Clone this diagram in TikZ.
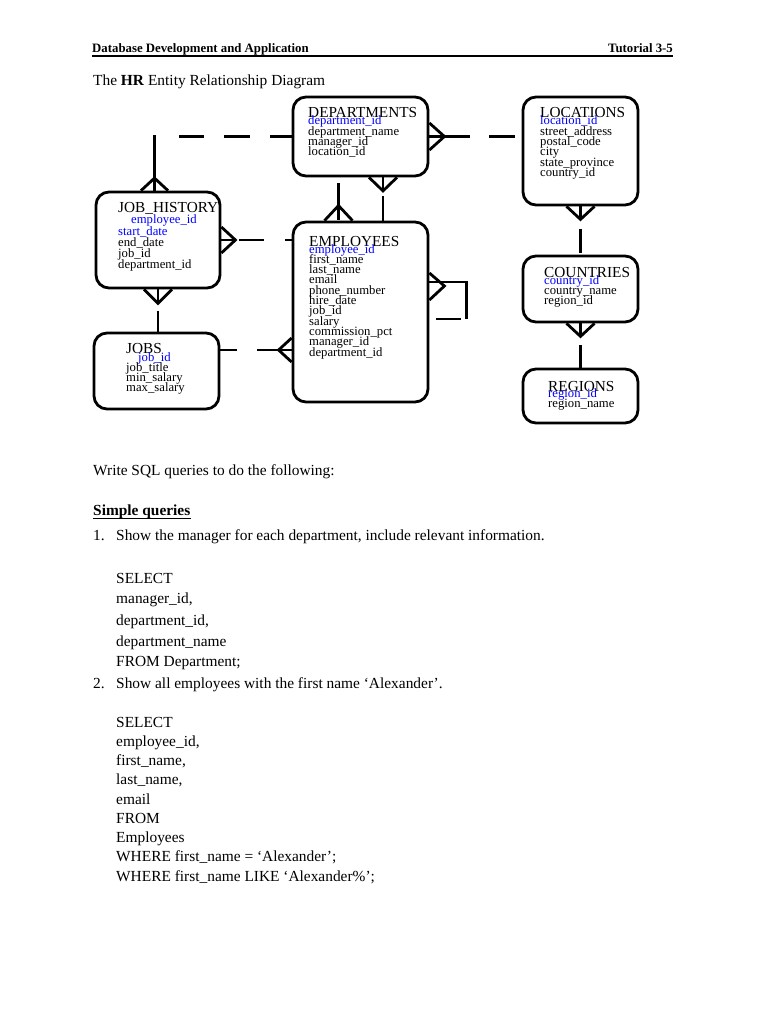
\documentclass[tikz,border=0pt]{standalone}
\usepackage{fontspec}
\setmainfont{Liberation Serif}
\usetikzlibrary{calc}
\begin{document}
\begin{tikzpicture}[x=1pt,y=-1pt,
  box/.style={draw,line width=2.8pt,rounded corners=13pt,inner sep=0pt},
  conn/.style={line width=2.8pt},
  hdr/.style={font=\fontsize{12.8}{14}\selectfont\bfseries,inner sep=0pt},
  body/.style={font=\fontsize{15.4}{18}\selectfont,anchor=base west,inner sep=0pt},
  ttl/.style={font=\fontsize{15.3}{16}\selectfont,anchor=base west,inner sep=0pt},
  att/.style={font=\fontsize{12.7}{13}\selectfont,anchor=base west,inner sep=0pt},
  pk/.style={att,text=blue}]
\fill[white] (0,0) rectangle (768,1024);
\useasboundingbox (0,0) rectangle (768,1024);

% header
\node[hdr,anchor=base west] (hl) at (92,53) {Database Development and Application};
\node[hdr,anchor=base east] (hr) at (673,53) {Tutorial 3-5};
\draw[line width=1.3pt] ($(hl.base west)+(0,3)$) -- ($(hr.base east)+(0,3)$);
\node[body] (title) at (93,86) {The \textbf{HR} Entity Relationship Diagram};

% entity boxes
\node[box,minimum width=135pt,minimum height=79pt] (dept) at (360.5,136.5) {};
\node[box,minimum width=115pt,minimum height=108pt] (loc) at (580.5,151) {};
\node[box,minimum width=124pt,minimum height=96pt] (jh) at (158,240) {};
\node[box,minimum width=135pt,minimum height=180pt] (emp) at (360.5,312) {};
\node[box,minimum width=125pt,minimum height=76pt] (jobs) at (156.5,371) {};
\node[box,minimum width=115pt,minimum height=66pt] (ctry) at (580.5,289) {};
\node[box,minimum width=115pt,minimum height=54pt] (reg) at (580.5,396) {};

% DEPARTMENTS
\node[ttl] (dept-t) at (308,118) {DEPARTMENTS};
\node[pk] (dept-0) at (308,125) {department\_id};
\foreach \t [count=\i from 1] in {department\_name,manager\_id,location\_id}
  \node[att] (dept-\i) at (308,{125+10.3*\i}) {\t};

% LOCATIONS
\node[ttl] (loc-t) at (540,118) {LOCATIONS};
\node[pk] (loc-0) at (540,125) {location\_id};
\foreach \t [count=\i from 1] in {street\_address,postal\_code,city,state\_province,country\_id}
  \node[att] (loc-\i) at (540,{125+10.3*\i}) {\t};

% JOB_HISTORY
\node[ttl] (jh-t) at (118,213) {JOB\_HISTORY};
\node[pk] (jh-0) at (131,224) {employee\_id};
\node[pk] (jh-1) at (118,235.2) {start\_date};
\foreach \t [count=\i from 2] in {end\_date,job\_id,department\_id}
  \node[att] (jh-\i) at (118,{224+11.2*\i}) {\t};

% EMPLOYEES
\node[ttl] (emp-t) at (309,246) {EMPLOYEES};
\node[pk] (emp-0) at (309,253) {employee\_id};
\foreach \t [count=\i from 1] in {first\_name,last\_name,email,phone\_number,hire\_date,job\_id,salary,commission\_pct,manager\_id,department\_id}
  \node[att] (emp-\i) at (309,{253+10.3*\i}) {\t};

% JOBS
\node[ttl] (jobs-t) at (126,353) {JOBS};
\node[pk] (jobs-0) at (138,361) {job\_id};
\foreach \t [count=\i from 1] in {job\_title,min\_salary,max\_salary}
  \node[att] (jobs-\i) at (126,{361+10.3*\i}) {\t};

% COUNTRIES
\node[ttl] (ctry-t) at (544,277) {COUNTRIES};
\node[pk] (ctry-0) at (544,284) {country\_id};
\foreach \t [count=\i from 1] in {country\_name,region\_id}
  \node[att] (ctry-\i) at (544,{284+10.3*\i}) {\t};

% REGIONS
\node[ttl] (reg-t) at (548,391) {REGIONS};
\node[pk] (reg-0) at (548,397) {region\_id};
\node[att] (reg-1) at (548,407) {region\_name};

% ---- connectors ----
% DEPARTMENTS - LOCATIONS
\draw[conn,dash pattern=on 41pt off 19pt on 26pt off 60pt] (dept.east) -- (loc.west |- dept.east);
\draw[conn] ($(dept.east)+(0,-13.5)$) -- ($(dept.east)+(15,0)$) -- ($(dept.east)+(0,13.5)$);

% DEPARTMENTS - JOB_HISTORY
\coordinate (jht) at ($(jh.north)+(-3.5,0)$);
\draw[conn,dash pattern=on 55.5pt off 23.5pt on 25pt off 20pt on 26pt off 20pt on 30pt] (jht) |- (dept.west);
\draw[conn] ($(jht)+(-13.5,0)$) -- ($(jht)+(0,-12.5)$) -- ($(jht)+(13.5,0)$);

% DEPARTMENTS - EMPLOYEES (many employees)
\draw[conn] ($(dept.south)+(-22,6)$) -- ($(emp.north)+(-22,-1)$);
\draw[conn] ($(emp.north)+(-36,0)$) -- ($(emp.north)+(-22,-15)$) -- ($(emp.north)+(-8,0)$);

% EMPLOYEES - DEPARTMENTS (manager)
\draw[conn,dash pattern=on 13.5pt off 5.5pt on 25pt off 10pt] ($(dept.south)+(22.5,0)$) -- ($(emp.north)+(22.5,0)$);
\draw[conn] ($(dept.south)+(8.5,0)$) -- ($(dept.south)+(22.5,13.5)$) -- ($(dept.south)+(36.5,0)$);

% JOB_HISTORY - EMPLOYEES
\draw[conn,dash pattern=on 14pt off 4pt on 25pt off 21pt on 20pt] (jh.east) -- (emp.west |- jh.east);
\draw[conn] ($(jh.east)+(0,-13)$) -- ($(jh.east)+(14,0)$) -- ($(jh.east)+(0,13)$);

% JOB_HISTORY - JOBS
\draw[conn,dash pattern=on 14pt off 8pt on 21pt off 10pt] (jh.south) -- (jh.south |- jobs.north);
\draw[conn] ($(jh.south)+(-14,0)$) -- ($(jh.south)+(0,14)$) -- ($(jh.south)+(14,0)$);

% JOBS - EMPLOYEES
\coordinate (jr) at ($(jobs.east)+(0,-21)$);
\coordinate (el) at (emp.west |- jr);
\draw[conn,dash pattern=on 17pt off 20pt on 40pt] (jr) -- (el);
\draw[conn] ($(el)+(0,-12)$) -- ($(el)+(-13,0)$) -- ($(el)+(0,12)$);

% EMPLOYEES self relationship (manager_id)
\coordinate (er) at ($(emp.east)+(0,-26)$);
\draw[conn] ($(er)+(0,-13)$) -- ($(er)+(15,0)$) -- ($(er)+(0,14)$);
\draw[conn] ($(er)+(0,-4)$) -- ++(37,0) -- ++(0,37);
\draw[conn] ($(er)+(7,33)$) -- ++(25,0);

% LOCATIONS - COUNTRIES
\draw[conn,dash pattern=on 13pt off 10pt on 24pt off 10pt] (loc.south) -- (ctry.north);
\draw[conn] ($(loc.south)+(-14,0)$) -- ($(loc.south)+(0,13)$) -- ($(loc.south)+(14,0)$);

% COUNTRIES - REGIONS
\draw[conn,dash pattern=on 13pt off 9pt on 23pt off 10pt] (ctry.south) -- (reg.north);
\draw[conn] ($(ctry.south)+(-14,0)$) -- ($(ctry.south)+(0,13)$) -- ($(ctry.south)+(14,0)$);

% ---- text below ----
\node[body] (w) at (93,475) {Write SQL queries to do the following:};
\node[body] (sq) at (93,515) {\textbf{Simple queries}};
\draw[line width=1pt] ($(sq.base west)+(0,3.3)$) -- ($(sq.base east)+(0,3.3)$);
\node[body] (n1) at (93,540.7) {1.};
\node[body] (q1) at (116,540.7) {Show the manager for each department, include relevant information.};
\node[body] (a1) at (116,583) {SELECT};
\node[body] (a2) at (116,603.5) {manager\_id,};
\node[body] (a3) at (116,625.5) {department\_id,};
\node[body] (a4) at (116,646) {department\_name};
\node[body] (a5) at (116,666.7) {FROM Department;};
\node[body] (n2) at (93,688) {2.};
\node[body] (q2) at (116,688) {Show all employees with the first name ‘Alexander’.};
\node[body] (b1) at (116,727.3) {SELECT};
\node[body] (b2) at (116,746.7) {employee\_id,};
\node[body] (b3) at (116,765.5) {first\_name,};
\node[body] (b4) at (116,784.5) {last\_name,};
\node[body] (b5) at (116,804) {email};
\node[body] (b6) at (116,823) {FROM};
\node[body] (b7) at (116,842.3) {Employees};
\node[body] (b8) at (116,861.7) {WHERE first\_name = ‘Alexander’;};
\node[body] (b9) at (116,881) {WHERE first\_name LIKE ‘Alexander\%’;};
\end{tikzpicture}
\end{document}
